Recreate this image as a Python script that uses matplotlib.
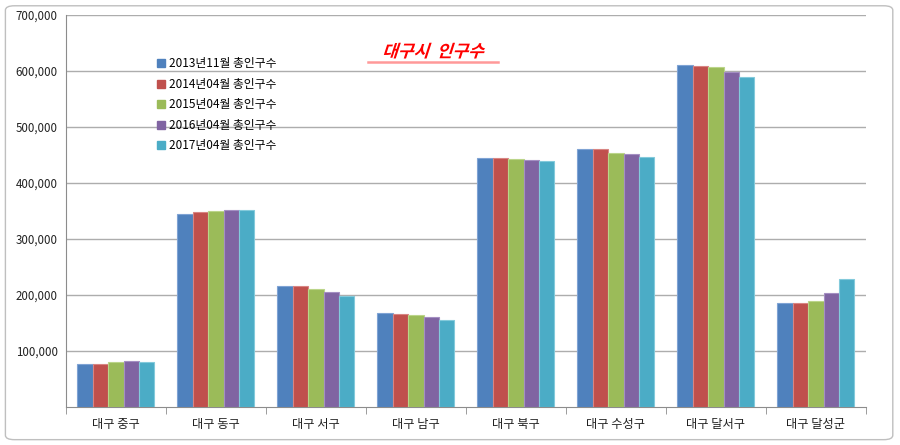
import numpy as np
import matplotlib.pyplot as plt
from matplotlib.patches import FancyBboxPatch, PathPatch
from matplotlib.lines import Line2D
from matplotlib.ticker import FuncFormatter, FixedLocator
from matplotlib.textpath import TextPath
from matplotlib.font_manager import FontProperties
from matplotlib.transforms import Affine2D, IdentityTransform

plt.rcParams['font.family'] = ['Noto Sans CJK KR', 'DejaVu Sans']

# 데이터
districts = ['대구 중구', '대구 동구', '대구 서구', '대구 남구',
             '대구 북구', '대구 수성구', '대구 달서구', '대구 달성군']
series_names = ['2013년11월 총인구수', '2014년04월 총인구수', '2015년04월 총인구수',
                '2016년04월 총인구수', '2017년04월 총인구수']
pop_2013_11 = [76500, 344600, 216600, 167900, 444600, 460700, 610700, 185700]
pop_2014_04 = [76300, 348000, 215500, 166000, 443800, 460500, 609000, 186600]
pop_2015_04 = [79800, 350000, 210200, 164000, 443000, 453600, 607000, 189000]
pop_2016_04 = [81500, 352000, 205400, 160700, 441000, 451800, 597700, 203600]
pop_2017_04 = [79800, 352000, 198200, 155000, 440000, 446000, 589000, 228600]
series = [pop_2013_11, pop_2014_04, pop_2015_04, pop_2016_04, pop_2017_04]
title = '대구시  인구수'

colors = ['#4F81BD', '#C0504D', '#9BBB59', '#8064A2', '#4BACC6']
edges = ['#7FA3D4', '#D88583', '#BBD58A', '#A48FC2', '#83CADB']

W, H = 900, 445
fig = plt.figure(figsize=(W / 100, H / 100), dpi=100)

# 차트 테두리
border = FancyBboxPatch((0.006, 0.012), 0.986, 0.975,
                        boxstyle='round,pad=0,rounding_size=0.01',
                        transform=fig.transFigure, fill=False,
                        edgecolor='#BFBFBF', linewidth=1.0)
fig.patches.append(border)

ax = fig.add_axes([0.0733, 0.0854, 0.8889, 0.8809])

x = np.arange(len(districts))
bw = 0.154
for i, (vals, c, ec) in enumerate(zip(series, colors, edges)):
    ax.bar(x - 2 * bw + i * bw, vals, width=bw, color=c, edgecolor=ec,
           linewidth=0.8, label=series_names[i], zorder=3)

ax.set_xlim(-0.5, len(districts) - 0.5)
ax.set_ylim(0, 700000)
ax.yaxis.set_major_locator(FixedLocator(np.arange(100000, 700001, 100000)))
ax.yaxis.set_major_formatter(FuncFormatter(lambda v, p: f'{int(v):,}'))
ax.grid(axis='y', color='#ADADAD', linewidth=1.0, zorder=0)

ax.set_xticks(x)
ax.set_xticklabels(districts, fontsize=8.8, color='#222222')
ax.set_xticks(np.arange(-0.5, len(districts)), minor=True)
ax.tick_params(axis='x', which='major', length=0, pad=8)
ax.tick_params(axis='x', which='minor', length=5, color='#8C8C8C', direction='out')
ax.tick_params(axis='y', length=0, labelsize=8.3, colors='#222222', pad=6)

for s in ['top', 'right']:
    ax.spines[s].set_visible(False)
ax.spines['left'].set_color('#8C8C8C')
ax.spines['bottom'].set_color('#8C8C8C')

handles = [Line2D([0], [0], marker='s', linestyle='', markersize=5.5,
                  markerfacecolor=c, markeredgecolor=c) for c in colors]
ax.legend(handles, series_names, loc='upper left', bbox_to_anchor=(0.107, 0.907),
          frameon=False, fontsize=8.5, handlelength=0.6, handletextpad=0.35,
          labelspacing=0.63, borderpad=0)

# 제목 (기울임꼴)
tp = TextPath((0, 0), title, size=17,
              prop=FontProperties(family='Noto Sans CJK KR', weight='bold'))
ext = tp.get_extents()
tx = Affine2D().translate(-(ext.x0 + ext.x1) / 2, 0).skew_deg(18, 0).translate(433, H - 57)
fig.add_artist(PathPatch(tp, transform=tx + IdentityTransform(),
                         facecolor='#FF0000', edgecolor='none'))
fig.add_artist(Line2D([368 / W, 498 / W], [1 - 62 / H, 1 - 62 / H],
                      transform=fig.transFigure, color='#FF9999', linewidth=1.8))

plt.savefig('out.png', dpi=100)
